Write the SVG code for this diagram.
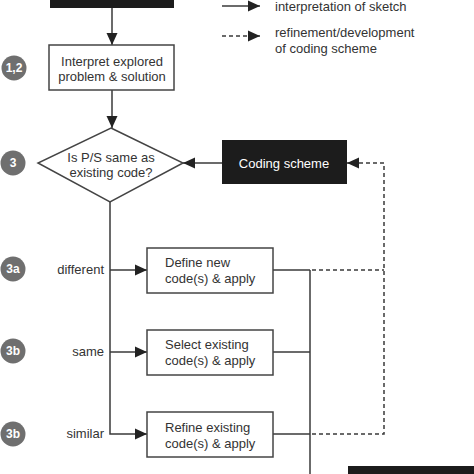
<svg xmlns="http://www.w3.org/2000/svg" width="474" height="474" viewBox="0 0 474 474">
<style>
text{font-family:"Liberation Sans",Arial,sans-serif;font-size:13px;fill:#333}
.box{fill:#fff;stroke:#444;stroke-width:1.5}
.blk{fill:#1c1c1c}
.ln{fill:none;stroke:#3a3a3a;stroke-width:1.5}
.dash{fill:none;stroke:#3a3a3a;stroke-width:1.5;stroke-dasharray:4 3}
.badge{fill:#6f6f6f}
.bt{fill:#fff;font-weight:bold;font-size:12px;text-anchor:middle}
.c{text-anchor:middle}
.r{text-anchor:end}
.w{fill:#fff}
</style>
<defs>
<marker id="ah" markerUnits="userSpaceOnUse" markerWidth="13" markerHeight="12" refX="12" refY="6" orient="auto">
<path d="M0,0.5 L12,6 L0,11.5 Z" fill="#222"/>
</marker>
</defs>
<rect x="0" y="0" width="474" height="474" fill="#fff"/>

<g id="legend">
<line class="ln" x1="222" y1="6" x2="260" y2="6" marker-end="url(#ah)"/>
<text x="275" y="11">interpretation of sketch</text>
<line class="dash" x1="222" y1="36" x2="260" y2="36" marker-end="url(#ah)"/>
<text x="275" y="37">refinement/development</text>
<text x="275" y="53">of coding scheme</text>
</g>

<g id="connectors">
<line class="ln" x1="112" y1="8" x2="112" y2="45" marker-end="url(#ah)"/>
<line class="ln" x1="112" y1="90" x2="112" y2="128" marker-end="url(#ah)"/>
<line class="ln" x1="222" y1="163" x2="183" y2="163" marker-end="url(#ah)"/>
<path class="ln" d="M110,202 V434 H147" marker-end="url(#ah)"/>
<line class="ln" x1="110" y1="270" x2="147" y2="270" marker-end="url(#ah)"/>
<line class="ln" x1="110" y1="352" x2="147" y2="352" marker-end="url(#ah)"/>
<line class="ln" x1="273" y1="270" x2="310" y2="270"/>
<line class="ln" x1="273" y1="352" x2="310" y2="352"/>
<line class="ln" x1="273" y1="434" x2="310" y2="434"/>
<line class="ln" x1="310" y1="270" x2="310" y2="476"/>
<line class="dash" x1="312" y1="270" x2="384" y2="270"/>
<path class="dash" d="M312,434 H384 V163 H347" marker-end="url(#ah)"/>
</g>

<g id="top-box"><rect class="blk" x="50" y="-2" width="124" height="10"/></g>

<g id="interpret">
<rect class="box" x="49" y="45" width="125" height="45"/>
<text class="c" x="112" y="65.5">Interpret explored</text>
<text class="c" x="112" y="81">problem &amp; solution</text>
</g>

<g id="decision">
<polygon class="box" points="111,128 183,163 110,202 38,163"/>
<text class="c" x="111" y="162">Is P/S same as</text>
<text class="c" x="111" y="177">existing code?</text>
</g>

<g id="coding-scheme">
<rect class="blk" x="222" y="140" width="125" height="44"/>
<text class="c w" x="284" y="167.5">Coding scheme</text>
</g>

<g id="define">
<rect class="box" x="147" y="248" width="126" height="45"/>
<text x="165" y="266.5">Define new</text>
<text x="165" y="282.5">code(s) &amp; apply</text>
</g>

<g id="select">
<rect class="box" x="147" y="330" width="126" height="45"/>
<text x="165" y="348.5">Select existing</text>
<text x="165" y="364.5">code(s) &amp; apply</text>
</g>

<g id="refine">
<rect class="box" x="147" y="412" width="126" height="45"/>
<text x="165" y="431.5">Refine existing</text>
<text x="165" y="447.5">code(s) &amp; apply</text>
</g>

<g id="bottom-box"><rect class="blk" x="348" y="466" width="130" height="10"/></g>

<g id="labels">
<text class="r" x="104" y="274">different</text>
<text class="r" x="104" y="356">same</text>
<text class="r" x="104" y="438">similar</text>
</g>

<g id="badges">
<circle class="badge" cx="14" cy="68" r="12.5"/><text class="bt" x="14" y="72">1,2</text>
<circle class="badge" cx="13" cy="163" r="12.5"/><text class="bt" x="13" y="167">3</text>
<circle class="badge" cx="13" cy="269" r="12.5"/><text class="bt" x="13" y="273">3a</text>
<circle class="badge" cx="13" cy="351" r="12.5"/><text class="bt" x="13" y="355">3b</text>
<circle class="badge" cx="13" cy="434" r="12.5"/><text class="bt" x="13" y="438">3b</text>
</g>
</svg>
